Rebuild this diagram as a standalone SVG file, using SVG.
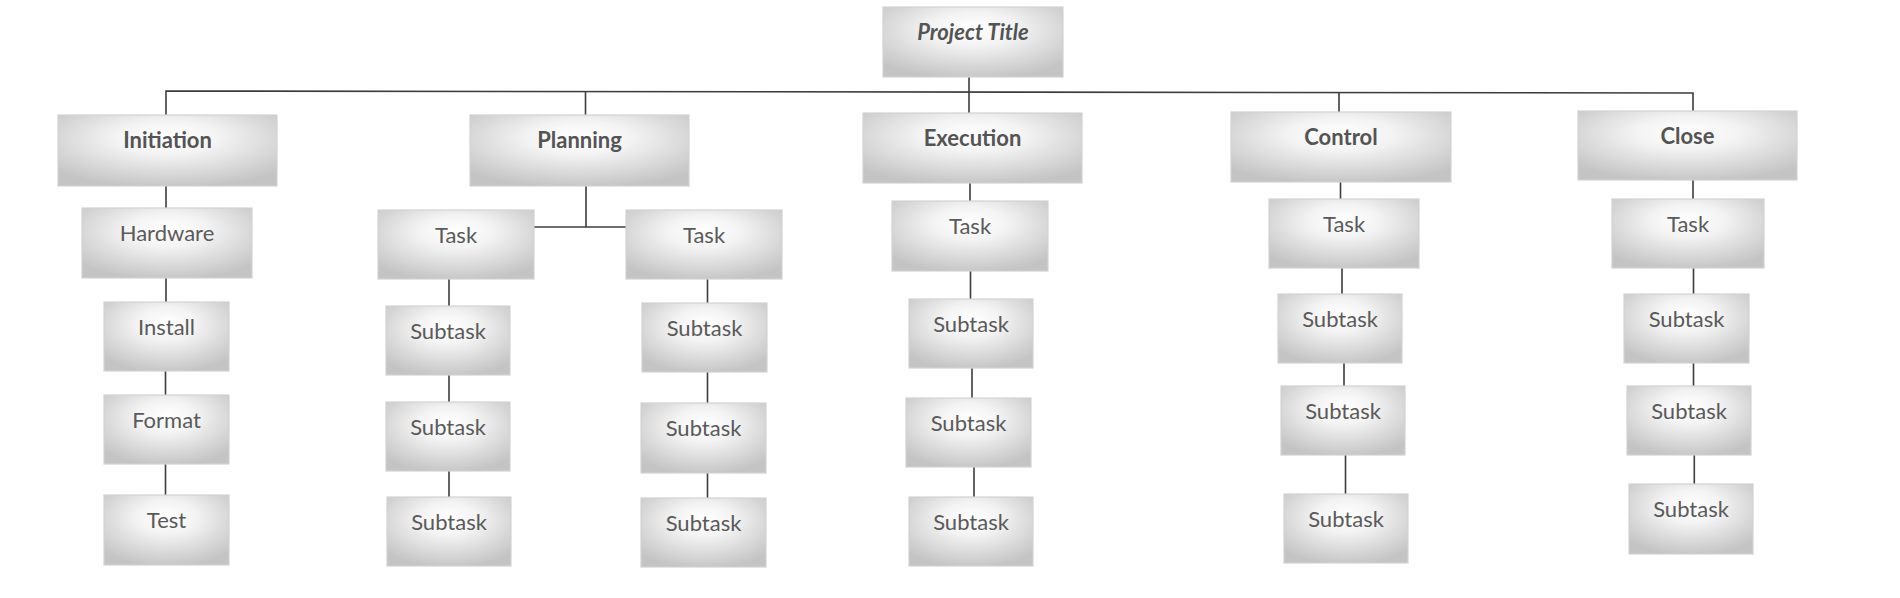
<svg xmlns="http://www.w3.org/2000/svg" width="1900" height="598" viewBox="0 0 1900 598">
<defs>
<radialGradient id="boxfill" cx="0.5" cy="0.35" r="0.68" fx="0.5" fy="0.3">
<stop offset="0" stop-color="#ffffff"/>
<stop offset="0.35" stop-color="#f3f3f3"/>
<stop offset="1" stop-color="#c4c4c4"/>
</radialGradient>
</defs>
<style>
.box{fill:url(#boxfill);stroke:#d2d2d2;stroke-width:1.2}
.lbl{font-family:Lato,"Open Sans",sans-serif;font-size:22px;fill:#5a5a5a;text-anchor:middle}
.b{font-weight:bold;fill:#545454}
.bi{font-weight:bold;font-style:italic;fill:#545454}
.con{fill:none;stroke:#3c3c3c;stroke-width:1.6}
</style>
<rect width="1900" height="598" fill="#ffffff"/>
<g id="connectors">
<path class="con" d="M166 115 V91 L1693 93 V111"/>
<path class="con" d="M585.5 91.5 V115"/>
<path class="con" d="M969 77 V113"/>
<path class="con" d="M1339 92.5 V112"/>
<path class="con" d="M166 186 V208"/>
<path class="con" d="M166 278 V302"/>
<path class="con" d="M165.5 371 V395"/>
<path class="con" d="M165.5 464 V495"/>
<path class="con" d="M586 186 V227"/>
<path class="con" d="M534 227 H626"/>
<path class="con" d="M449 279 V306"/>
<path class="con" d="M449 375 V402"/>
<path class="con" d="M449 471 V497"/>
<path class="con" d="M707.5 279 V303"/>
<path class="con" d="M707.5 372 V403"/>
<path class="con" d="M707.5 473 V498"/>
<path class="con" d="M970 183 V201"/>
<path class="con" d="M970.5 271 V299"/>
<path class="con" d="M972 368 V398"/>
<path class="con" d="M974 467 V497"/>
<path class="con" d="M1340.5 182 V199"/>
<path class="con" d="M1342 268 V294"/>
<path class="con" d="M1344 363 V386"/>
<path class="con" d="M1345.5 455 V494"/>
<path class="con" d="M1693 180 V199"/>
<path class="con" d="M1693.5 268 V294"/>
<path class="con" d="M1693.5 363 V386"/>
<path class="con" d="M1694.3 455 V484"/>
</g>
<g id="title"><rect class="box" x="883" y="7" width="180" height="70"/><text class="lbl bi" x="973" y="40">Project Title</text></g>
<g id="initiation"><rect class="box" x="58" y="115" width="219" height="71"/><text class="lbl b" x="167.5" y="148">Initiation</text></g>
<g id="planning"><rect class="box" x="470" y="115" width="219" height="71"/><text class="lbl b" x="579.5" y="148">Planning</text></g>
<g id="execution"><rect class="box" x="863" y="113" width="219" height="70"/><text class="lbl b" x="972.5" y="146">Execution</text></g>
<g id="control"><rect class="box" x="1231" y="112" width="220" height="70"/><text class="lbl b" x="1341" y="145">Control</text></g>
<g id="close"><rect class="box" x="1578" y="111" width="219" height="69"/><text class="lbl b" x="1687.5" y="144">Close</text></g>
<g id="hardware"><rect class="box" x="82" y="208" width="170" height="70"/><text class="lbl" x="167" y="241">Hardware</text></g>
<g id="install"><rect class="box" x="104" y="302" width="125" height="69"/><text class="lbl" x="166.5" y="335">Install</text></g>
<g id="format"><rect class="box" x="104" y="395" width="125" height="69"/><text class="lbl" x="166.5" y="428">Format</text></g>
<g id="test"><rect class="box" x="104" y="495" width="125" height="70"/><text class="lbl" x="166.5" y="528">Test</text></g>
<g id="plan-task1"><rect class="box" x="378" y="210" width="156" height="69"/><text class="lbl" x="456" y="243">Task</text></g>
<g id="plan-task2"><rect class="box" x="626" y="210" width="156" height="69"/><text class="lbl" x="704" y="243">Task</text></g>
<g id="p1-sub1"><rect class="box" x="386" y="306" width="124" height="69"/><text class="lbl" x="448" y="339">Subtask</text></g>
<g id="p1-sub2"><rect class="box" x="386" y="402" width="124" height="69"/><text class="lbl" x="448" y="435">Subtask</text></g>
<g id="p1-sub3"><rect class="box" x="387" y="497" width="124" height="69"/><text class="lbl" x="449" y="530">Subtask</text></g>
<g id="p2-sub1"><rect class="box" x="642" y="303" width="125" height="69"/><text class="lbl" x="704.5" y="336">Subtask</text></g>
<g id="p2-sub2"><rect class="box" x="641" y="403" width="125" height="70"/><text class="lbl" x="703.5" y="436">Subtask</text></g>
<g id="p2-sub3"><rect class="box" x="641" y="498" width="125" height="69"/><text class="lbl" x="703.5" y="531">Subtask</text></g>
<g id="exec-task"><rect class="box" x="892" y="201" width="156" height="70"/><text class="lbl" x="970" y="234">Task</text></g>
<g id="e-sub1"><rect class="box" x="909" y="299" width="124" height="69"/><text class="lbl" x="971" y="332">Subtask</text></g>
<g id="e-sub2"><rect class="box" x="906" y="398" width="125" height="69"/><text class="lbl" x="968.5" y="431">Subtask</text></g>
<g id="e-sub3"><rect class="box" x="909" y="497" width="124" height="69"/><text class="lbl" x="971" y="530">Subtask</text></g>
<g id="ctrl-task"><rect class="box" x="1269" y="199" width="150" height="69"/><text class="lbl" x="1344" y="232">Task</text></g>
<g id="c-sub1"><rect class="box" x="1278" y="294" width="124" height="69"/><text class="lbl" x="1340" y="327">Subtask</text></g>
<g id="c-sub2"><rect class="box" x="1281" y="386" width="124" height="69"/><text class="lbl" x="1343" y="419">Subtask</text></g>
<g id="c-sub3"><rect class="box" x="1284" y="494" width="124" height="69"/><text class="lbl" x="1346" y="527">Subtask</text></g>
<g id="close-task"><rect class="box" x="1612" y="199" width="152" height="69"/><text class="lbl" x="1688" y="232">Task</text></g>
<g id="cl-sub1"><rect class="box" x="1624" y="294" width="125" height="69"/><text class="lbl" x="1686.5" y="327">Subtask</text></g>
<g id="cl-sub2"><rect class="box" x="1627" y="386" width="124" height="69"/><text class="lbl" x="1689" y="419">Subtask</text></g>
<g id="cl-sub3"><rect class="box" x="1629" y="484" width="124" height="70"/><text class="lbl" x="1691" y="517">Subtask</text></g>
</svg>
